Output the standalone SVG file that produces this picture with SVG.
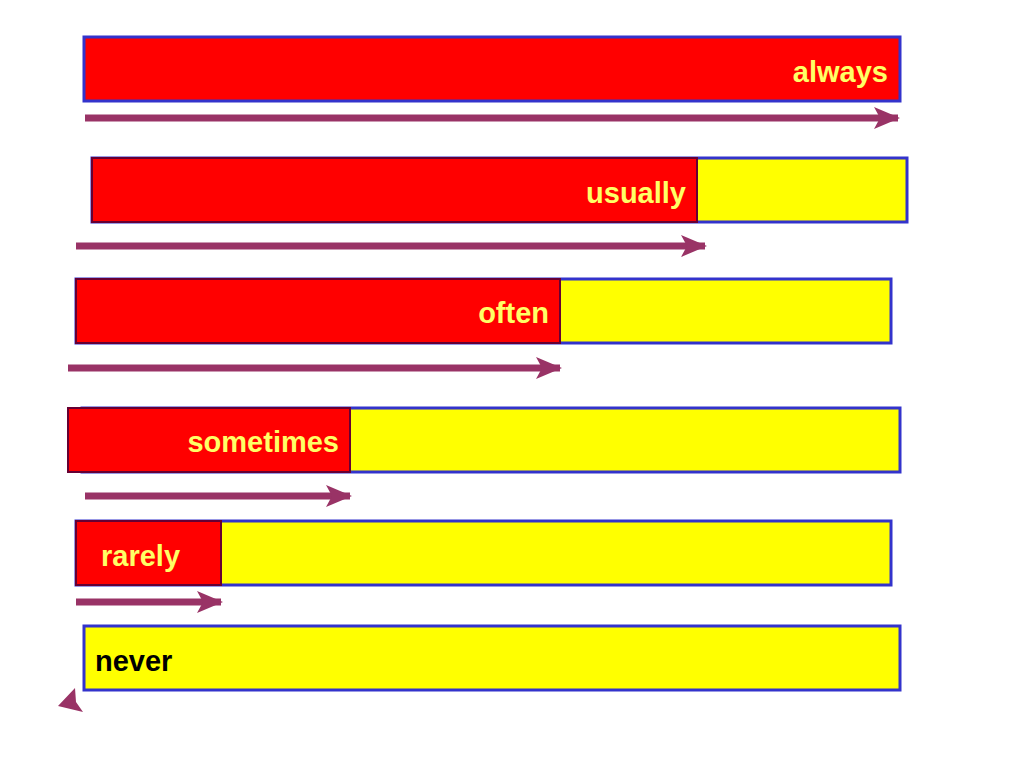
<svg xmlns="http://www.w3.org/2000/svg" width="1024" height="768" viewBox="0 0 1024 768">
<style>
.bar{fill:#ffff00;stroke:#3333cc;stroke-width:3}
.red{fill:#ff0000;stroke:#660033;stroke-width:2}
.t{font-family:"Liberation Sans",Arial,sans-serif;font-weight:bold;font-size:29px;fill:#ffff66}
.a{stroke:#993366;stroke-width:7;fill:none;marker-end:url(#ah)}
</style>
<defs>
<marker id="ah" markerUnits="userSpaceOnUse" markerWidth="30" markerHeight="24" viewBox="0 -12 28 24" refX="24" refY="0" orient="auto">
<path d="M0,-11 L26,0 L0,11 L6,0 z" fill="#993366"/>
</marker>
</defs>
<rect width="1024" height="768" fill="#fff"/>
<g id="always"><rect x="84" y="37" width="816" height="64" fill="#ff0000" stroke="#3333cc" stroke-width="3"/><text class="t" x="888" y="82" text-anchor="end">always</text></g>
<g id="usually"><rect class="bar" x="92" y="158" width="815" height="64"/><rect class="red" x="92" y="158" width="605" height="64"/><text class="t" x="686" y="203" text-anchor="end">usually</text></g>
<g id="often"><rect class="bar" x="76" y="279" width="815" height="64"/><rect class="red" x="76" y="279" width="484" height="64"/><text class="t" x="549" y="323" text-anchor="end">often</text></g>
<g id="sometimes"><rect class="bar" x="82" y="408" width="818" height="64"/><rect class="red" x="68" y="408" width="282" height="64"/><text class="t" x="339" y="452" text-anchor="end">sometimes</text></g>
<g id="rarely"><rect class="bar" x="76" y="521" width="815" height="64"/><rect class="red" x="76" y="521" width="145" height="64"/><text class="t" x="101" y="566">rarely</text></g>
<g id="never"><rect class="bar" x="84" y="626" width="816" height="64"/><text class="t" x="95" y="671" style="fill:#000">never</text></g>
<g id="connectors">
<line class="a" x1="85" y1="118" x2="898" y2="118"/>
<line class="a" x1="76" y1="246" x2="705" y2="246"/>
<line class="a" x1="68" y1="368" x2="560" y2="368"/>
<line class="a" x1="85" y1="496" x2="350" y2="496"/>
<line class="a" x1="76" y1="602" x2="221" y2="602"/>
<path d="M58,706 L83,712 L76,702 L75,688 z" fill="#993366"/>
</g>
</svg>
